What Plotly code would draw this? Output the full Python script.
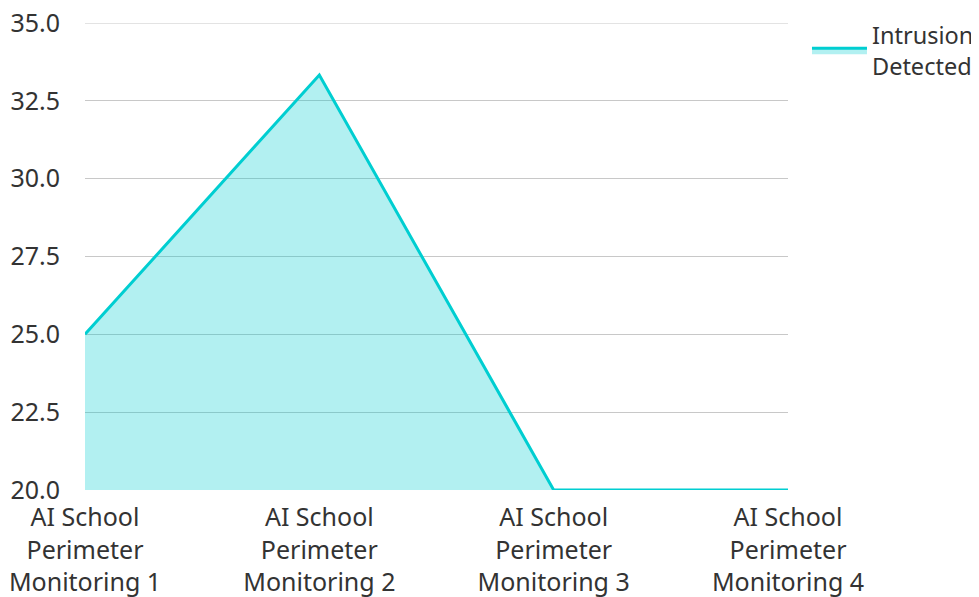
import plotly.graph_objects as go

categories = ["AI School<br>Perimeter<br>Monitoring 1", "AI School<br>Perimeter<br>Monitoring 2",
              "AI School<br>Perimeter<br>Monitoring 3", "AI School<br>Perimeter<br>Monitoring 4"]
values = [25.0, 33.33, 20.0, 20.0]
series_name = "Intrusion<br>Detected"
tick_vals = [20, 22.5, 25, 27.5, 30, 32.5, 35]

fig = go.Figure()
fig.add_trace(go.Scatter(
    x=list(range(len(categories))), y=values, name=series_name, mode="lines",
    line=dict(color="#00CED1", width=3), fill="tozeroy",
    fillcolor="rgba(0,206,209,0.3)", showlegend=True,
))
# top gridline at the upper edge of the value axis
fig.add_shape(type="line", xref="paper", x0=0, x1=1, yref="y",
              y0=tick_vals[-1], y1=tick_vals[-1], line=dict(color="#c8c8c8", width=1),
              layer="below")
fig.update_layout(
    width=979, height=597,
    margin=dict(l=77, r=199, t=15, b=115, autoexpand=False),
    paper_bgcolor="white", plot_bgcolor="white",
    font=dict(family="Noto Sans", size=25, color="#333333"),
    showlegend=True,
    legend=dict(x=1.027, y=1.021, xanchor="left", yanchor="top", font=dict(size=23.5),
                itemwidth=55, bgcolor="rgba(0,0,0,0)"),
    xaxis=dict(range=[0, 3], tickmode="array", tickvals=list(range(len(categories))),
               ticktext=categories, showgrid=False, zeroline=False, showline=False,
               ticks="", automargin=False, ticklabelstandoff=10, ticklabeloverflow="allow",
               tickfont=dict(size=25, color="#333333")),
    yaxis=dict(range=[20, 35], tickmode="array", tickvals=tick_vals,
               ticktext=[f"{v:.1f}" for v in tick_vals],
               showgrid=True, gridcolor="#c8c8c8", gridwidth=1, zeroline=False,
               showline=False, ticks="", ticklabelstandoff=24, automargin=False,
               ticklabeloverflow="allow",
               tickfont=dict(size=25, color="#333333")),
)
fig.write_html("out.html")
